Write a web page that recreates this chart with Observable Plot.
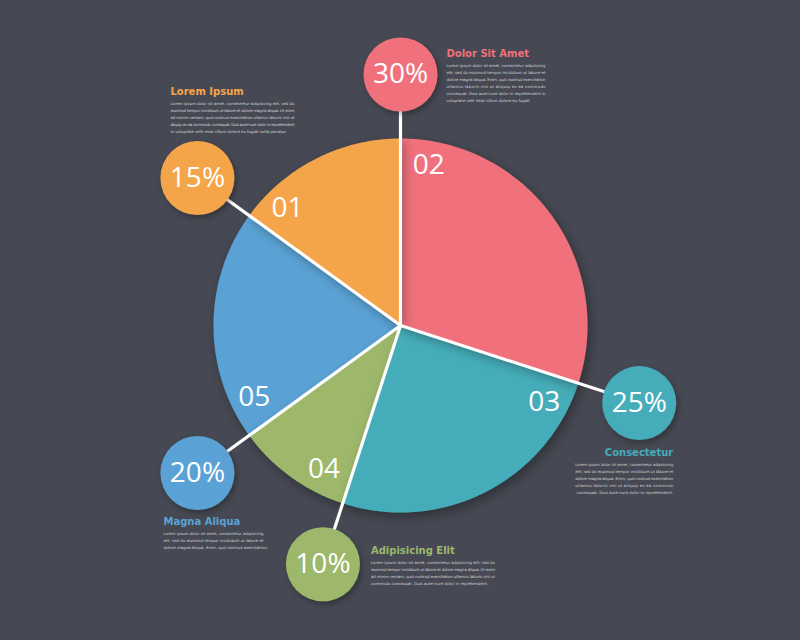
<!DOCTYPE html>
<html>
<head>
<meta charset="utf-8">
<script src="https://cdn.jsdelivr.net/npm/d3@7"></script>
<script src="https://cdn.jsdelivr.net/npm/@observablehq/plot@0.6"></script>
<style>
  html, body { margin: 0; padding: 0; background: #464953; }
  #chart { width: 800px; height: 640px; }
</style>
</head>
<body>
<div id="chart"></div>
<script>
// ---- data (clockwise from 12 o'clock) ----
const ids = ["02", "03", "04", "05", "01"];
const shares = [30, 25, 10, 20, 15];
const colors = ["#f0717b", "#45adb9", "#9db86b", "#5aa2d5", "#f5a54a"];
const titles = ["Dolor Sit Amet", "Consectetur", "Adipisicing Elit", "Magna Aliqua", "Lorem Ipsum"];
const bodies = [
  ["Lorem ipsum dolor sit amet, consectetur adipisicing",
   "elit, sed do eiusmod tempor incididunt ut labore et",
   "dolore magna aliqua. Enim, quis nostrud exercitation",
   "ullamco laboris nisi ut aliquip ex ea commodo",
   "consequat. Duis aute irure dolor in reprehenderit in",
   "voluptate velit esse cillum dolore eu fugiat"],
  ["Lorem ipsum dolor sit amet, consectetur adipisicing",
   "elit, sed do eiusmod tempor incididunt ut labore et",
   "dolore magna aliqua. Enim, quis nostrud exercitation",
   "ullamco laboris nisi ut aliquip ex ea commodo",
   "consequat. Duis aute irure dolor in reprehenderit."],
  ["Lorem ipsum dolor sit amet, consectetur adipisicing elit, sed do",
   "eiusmod tempor incididunt ut labore et dolore magna aliqua. Ut enim",
   "ad minim veniam, quis nostrud exercitation ullamco laboris nisi ut",
   "commodo consequat. Duis aute irure dolor in reprehenderit."],
  ["Lorem ipsum dolor sit amet, consectetur adipisicing",
   "elit, sed do eiusmod tempor incididunt ut labore et",
   "dolore magna aliqua. Enim, quis nostrud exercitation."],
  ["Lorem ipsum dolor sit amet, consectetur adipisicing elit, sed do",
   "eiusmod tempor incididunt ut labore et dolore magna aliqua. Ut enim",
   "ad minim veniam, quis nostrud exercitation ullamco laboris nisi ut",
   "aliquip ex ea commodo consequat. Duis aute irure dolor in reprehenderit",
   "in voluptate velit esse cillum dolore eu fugiat nulla pariatur."]
];

// ---- layout (pixels) ----
const W = 800, H = 640, CX = 400, CY = 325, PX = 187;   // centre, px per unit radius
const CALLOUT = 251 / PX;      // callout distance (units)
const LABEL_R = 0.87, LABEL_OFF = 10; // slice number radius / angle offset (deg)
const BODY_FS = 3.9, BODY_LH = 7, BODY_FILL = "#d2d3d7";
const blockLayout = {
  "02": {dx: 46, dy: -18, anchor: "start", w: 99},
  "03": {dx: 34, dy: 53, anchor: "end", w: 98},
  "04": {dx: 48, dy: -10, anchor: "start", w: 124},
  "05": {dx: -34, dy: 52, anchor: "start", w: 100},
  "01": {dx: -27, dy: -83, anchor: "start", w: 124}
};

const rad = a => a * Math.PI / 180;
let acc = 0;
const slices = ids.map((id, i) => {
  const a0 = acc / 100 * 360; acc += shares[i]; const a1 = acc / 100 * 360;
  const path = [{x: 0, y: 0}];
  const n = Math.ceil((a1 - a0) * 2);
  for (let k = 0; k <= n; k++) {
    const a = a0 + (a1 - a0) * k / n;
    path.push({x: Math.sin(rad(a)), y: Math.cos(rad(a))});
  }
  path.push({x: 0, y: 0});
  const la = a0 + LABEL_OFF;
  return {
    id, share: shares[i], color: colors[i], title: titles[i], body: bodies[i], a0, a1, path,
    cx: CALLOUT * Math.sin(rad(a0)), cy: CALLOUT * Math.cos(rad(a0)),
    lx: LABEL_R * Math.sin(rad(la)), ly: LABEL_R * Math.cos(rad(la))
  };
});

const drawOrder = ["05", "04", "03", "02", "01"];
const sliceMarks = drawOrder.map(id => {
  const s = slices.find(d => d.id === id);
  return Plot.line(s.path, {x: "x", y: "y", fill: s.color, stroke: "none"});
});

const textMarks = slices.flatMap(s => {
  const L = blockLayout[s.id];
  return [
    Plot.text([s], {x: "cx", y: "cy", text: "title", fill: s.color, fontSize: 10, fontWeight: "bold",
      fontFamily: "DejaVu Sans", dx: L.dx, dy: L.dy, textAnchor: L.anchor, lineAnchor: "bottom"}),
    Plot.text([s], {x: "cx", y: "cy", text: d => d.body.join("\n"), fill: BODY_FILL, fontSize: BODY_FS,
      fontFamily: "DejaVu Sans", lineHeight: BODY_LH / BODY_FS, dx: L.dx,
      dy: L.dy + 8 - 0.71 * BODY_FS, textAnchor: L.anchor, lineAnchor: "top"})
  ];
});

const svg = Plot.plot({
  width: W, height: H, margin: 0,
  x: {domain: [-CX / PX, (W - CX) / PX], axis: null},
  y: {domain: [-(H - CY) / PX, CY / PX], axis: null},
  color: {type: "identity"},
  style: {background: "#464953", overflow: "visible"},
  marks: [
    ...sliceMarks,
    Plot.link(slices, {x1: () => 0, y1: () => 0, x2: "cx", y2: "cy", stroke: "white", strokeWidth: 3.2}),
    Plot.dot(slices, {x: "cx", y: "cy", r: 37, fill: "color", stroke: "none"}),
    Plot.text(slices, {x: "cx", y: "cy", text: d => d.share + "%", fill: "white", fontSize: 28, fontFamily: "Open Sans"}),
    Plot.text(slices, {x: "lx", y: "ly", text: "id", fill: "white", fontSize: 28, fontFamily: "Open Sans"}),
    ...textMarks
  ]
});

// shadows
const root = d3.select(svg);
const defs = root.insert("defs", ":first-child");
const f = defs.append("filter").attr("id", "sh").attr("x", "-30%").attr("y", "-30%").attr("width", "160%").attr("height", "160%");
f.append("feDropShadow").attr("dx", 3).attr("dy", 4).attr("stdDeviation", 6).attr("flood-color", "#000").attr("flood-opacity", 0.35);
const f2 = defs.append("filter").attr("id", "sh2").attr("x", "-30%").attr("y", "-30%").attr("width", "160%").attr("height", "160%");
f2.append("feDropShadow").attr("dx", 2).attr("dy", 3).attr("stdDeviation", 3).attr("flood-color", "#000").attr("flood-opacity", 0.3);
root.selectAll('g[aria-label="line"]').attr("filter", "url(#sh)");
root.selectAll('g[aria-label="dot"] circle').attr("filter", "url(#sh2)");

// justify body text lines
const bodyGroups = root.selectAll('g[aria-label="text"]').filter(function() { return this.getAttribute("fill") === BODY_FILL; });
bodyGroups.each(function(_, gi) {
  const L = blockLayout[slices[gi].id];
  const spans = d3.select(this).selectAll("tspan");
  const nS = spans.size();
  spans.each(function(d, i) {
    if (i < nS - 1) d3.select(this).attr("textLength", L.w).attr("lengthAdjust", "spacing");
  });
});

document.getElementById("chart").appendChild(svg);
</script>
</body>
</html>
